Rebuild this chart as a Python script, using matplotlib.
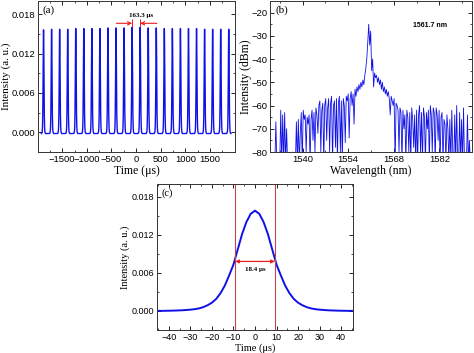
import numpy as np
import matplotlib.pyplot as plt
from matplotlib.ticker import MultipleLocator

# ---- data ----
# (c) single pulse profile, intensity (a.u.) vs time (us)
pulse_t = [-45, -42, -38, -34, -30, -28, -26, -24, -22, -20, -18, -16, -14, -12, -10, -8, -6, -4, -2, 0,
           2, 4, 6, 8, 10, 12, 14, 16, 18, 20, 22, 24, 26, 28, 30, 34, 38, 42, 45]
pulse_i = [0.00001, 0.00002, 0.00005, 0.0001, 0.0002, 0.00028, 0.0004, 0.0006, 0.0009, 0.0013, 0.0019,
           0.0028, 0.0040, 0.0056, 0.0073, 0.0097, 0.0121, 0.0140, 0.0153, 0.0158,
           0.0153, 0.0140, 0.0121, 0.0097, 0.0073, 0.0056, 0.0040, 0.0028, 0.0019, 0.0013, 0.0009,
           0.0006, 0.0004, 0.00028, 0.0002, 0.0001, 0.00005, 0.00002, 0.00001]
fwhm_edges = [-9.2, 9.2]

# (a) pulse train: 24 pulses, period 163.3 us
period = 163.3
peak_times = [(k + 0.5) * period for k in range(-12, 12)]
peak_heights = [0.0158, 0.0159, 0.0159, 0.0159, 0.0160, 0.0160, 0.0160, 0.0160, 0.0161, 0.0161, 0.0161, 0.0162,
                0.0162, 0.0161, 0.0161, 0.0160, 0.0160, 0.0160, 0.0160, 0.0160, 0.0159, 0.0159, 0.0159, 0.0159]
baseline_a = -0.0002

# (b) optical spectrum, dBm, sampled every 0.3 nm from 1530 nm (-85 = below floor)
spec = [-85, -85, -85, -85, -85, -85, -67, -85, -85, -85,
        -85, -62, -85, -64, -85, -63, -85, -70, -85, -85,
        -85, -85, -85, -80, -85, -85, -85, -67, -85, -66,
        -85, -72, -63, -85, -62, -66, -64, -80, -65, -68,
        -64, -85, -66, -62, -75, -63, -80, -61, -64, -72,
        -60, -58, -80, -62, -59, -85, -60, -57, -75, -61,
        -57, -80, -59, -56, -85, -60, -58, -78, -57, -85,
        -59, -56, -80, -58, -85, -57, -60, -76, -56, -58,
        -55, -74, -57, -54, -60, -55, -68, -53, -56, -52,
        -54, -51, -53, -50, -52, -49, -51, -47, -44, -40,
        -33, -25, -34, -28, -45, -40, -52, -46, -48, -47,
        -50, -48, -51, -49, -53, -50, -54, -52, -55, -53,
        -56, -54, -57, -64, -56, -58, -60, -57, -85, -59,
        -60, -62, -80, -61, -63, -85, -62, -70, -64, -85,
        -62, -65, -80, -63, -85, -61, -66, -78, -64, -85,
        -62, -85, -64, -60, -80, -63, -85, -61, -65, -85,
        -63, -70, -62, -85, -60, -64, -80, -61, -63, -85,
        -61, -64, -75, -62, -85, -65, -63, -85, -66, -68,
        -85, -64, -70, -85, -66, -85, -62, -80, -85, -64,
        -85, -60, -85, -85, -63, -85, -66, -85, -61, -85,
        -85, -85, -64, -85, -75, -85, -85]
wl0, dwl = 1530.0, 0.3

blue = '#1010e8'
red = '#ee1c1c'
sans = 'Liberation Sans'
serif = 'Liberation Serif'

fig = plt.figure(figsize=(4.74, 3.53), dpi=100)
axa = fig.add_axes([0.0802, 0.5694, 0.4156, 0.4278])
axb = fig.add_axes([0.5696, 0.5694, 0.4262, 0.4278])
axc = fig.add_axes([0.3312, 0.0652, 0.4135, 0.4136])


def style(ax, fs):
    ax.tick_params(which='both', direction='in', top=True, right=True, labelsize=fs, pad=2)
    ax.tick_params(which='major', length=3, width=0.6)
    ax.tick_params(which='minor', length=1.5, width=0.5)
    for lab in ax.get_xticklabels() + ax.get_yticklabels():
        lab.set_fontfamily(sans)
    for s in ax.spines.values():
        s.set_linewidth(0.7)
        s.set_color('#333333')


# ---- (a) ----
ta, ia = [], []
pmax = max(pulse_i)
for tp, h in zip(peak_times, peak_heights):
    for t, v in zip(pulse_t, pulse_i):
        ta.append(tp + t)
        ia.append(baseline_a + v / pmax * h)
axa.plot(ta, ia, color=blue, lw=1.0)
axa.set_xlim(-1990, 2005)
axa.set_ylim(-0.003, 0.020)
axa.xaxis.set_minor_locator(MultipleLocator(250))
axa.yaxis.set_minor_locator(MultipleLocator(0.003))
axa.set_xticks([-1500, -1000, -500, 0, 500, 1000, 1500])
axa.set_yticks([0.0, 0.006, 0.012, 0.018])
axa.set_yticklabels(['0.000', '0.006', '0.012', '0.018'])
style(axa, 6.8)
axa.set_xlabel('Time (\u03bcs)', family=serif, fontsize=8.5, labelpad=1)
axa.set_ylabel('Intensity (a. u.)', family=serif, fontsize=8)
axa.yaxis.set_label_coords(-0.135, 0.5)
axa.text(0.025, 0.97, '(a)', transform=axa.transAxes, family=serif, fontsize=8, va='top')
axa.annotate('', xy=(peak_times[11], 0.0166), xytext=(-400, 0.0166),
             arrowprops=dict(arrowstyle='->', color=red, lw=0.8, shrinkA=0, shrinkB=0, mutation_scale=6))
axa.annotate('', xy=(peak_times[12], 0.0166), xytext=(420, 0.0166),
             arrowprops=dict(arrowstyle='->', color=red, lw=0.8, shrinkA=0, shrinkB=0, mutation_scale=6))
axa.vlines([peak_times[11], peak_times[12]], 0.0160, 0.0172, color=red, lw=0.7)
axa.text(100, 0.0178, '163.3 \u03bcs', family=serif, fontsize=5, fontweight='bold', ha='center', va='center')

# ---- (b) ----
wl = [wl0 + k * dwl for k in range(len(spec))]
axb.plot(wl, spec, color=blue, lw=0.6)
axb.set_xlim(1530, 1592)
axb.set_ylim(-80, -15)
axb.set_xticks([1540, 1554, 1568, 1582])
axb.xaxis.set_minor_locator(MultipleLocator(7))
axb.set_yticks([-80, -70, -60, -50, -40, -30, -20])
axb.yaxis.set_minor_locator(MultipleLocator(5))
style(axb, 6.8)
axb.set_xlabel('Wavelength (nm)', family=serif, fontsize=8.5, labelpad=1)
axb.set_ylabel('Intensity (dBm)', family=serif, fontsize=8.5)
axb.yaxis.set_label_coords(-0.09, 0.5)
axb.text(0.025, 0.97, '(b)', transform=axb.transAxes, family=serif, fontsize=8, va='top')
axb.text(0.79, 0.84, '1561.7 nm', transform=axb.transAxes, family=sans, fontsize=5,
         fontweight='bold', ha='center', va='center')

# ---- (c) ----
axc.plot(pulse_t, pulse_i, color=blue, lw=1.4)
for x in fwhm_edges:
    axc.axvline(x, color='#c04848', lw=0.8)
axc.annotate('', xy=(fwhm_edges[0], 0.0078), xytext=(fwhm_edges[1], 0.0078),
             arrowprops=dict(arrowstyle='<|-|>', color=red, lw=0.9, shrinkA=0, shrinkB=0, mutation_scale=5))
axc.text(0, 0.0066, '18.4 \u03bcs', family=serif, fontsize=5, fontweight='bold', ha='center', va='center')
axc.set_xlim(-45.5, 45.5)
axc.set_ylim(-0.003, 0.020)
axc.set_xticks([-40, -30, -20, -10, 0, 10, 20, 30, 40])
axc.xaxis.set_minor_locator(MultipleLocator(5))
axc.yaxis.set_minor_locator(MultipleLocator(0.003))
axc.set_yticks([0.0, 0.006, 0.012, 0.018])
axc.set_yticklabels(['0.000', '0.006', '0.012', '0.018'])
style(axc, 6.5)
axc.set_xlabel('Time (\u03bcs)', family=serif, fontsize=7.5, labelpad=1)
axc.set_ylabel('Intensity (a. u.)', family=serif, fontsize=7.5)
axc.yaxis.set_label_coords(-0.138, 0.5)
axc.text(0.025, 0.97, '(c)', transform=axc.transAxes, family=serif, fontsize=7.5, va='top')

fig.savefig('out.png', dpi=100)
